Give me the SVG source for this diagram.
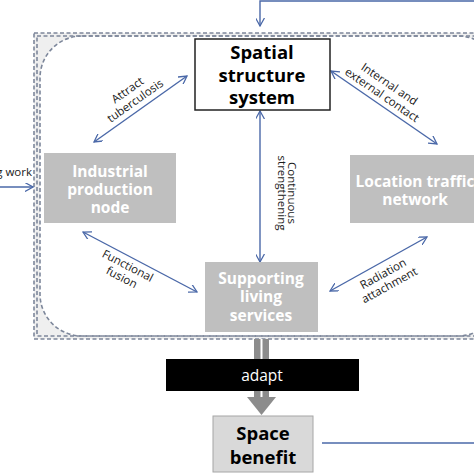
<svg xmlns="http://www.w3.org/2000/svg" width="474" height="474" viewBox="0 0 474 474">
<style>
.conn{stroke:#4a68a8;stroke-width:1.4;fill:none}
.lbl{font-family:"Open Sans","Noto Sans",sans-serif;font-size:11.5px;fill:#1a1a1a;text-anchor:middle}
.wt{font-family:"Open Sans","Noto Sans",sans-serif;font-weight:bold;font-size:15.5px;fill:#ffffff;text-anchor:middle}
.bt{font-family:"Open Sans","Noto Sans",sans-serif;font-weight:bold;font-size:18.5px;fill:#000000;text-anchor:middle}
.dash{stroke:#7d879b;stroke-width:1.6;fill:none;stroke-dasharray:4 2.5}
</style>
<defs>
<marker id="ah" viewBox="0 0 10 10" refX="9" refY="5" markerWidth="9" markerHeight="9" markerUnits="userSpaceOnUse" orient="auto-start-reverse">
<path d="M0,0 L9,5 L0,10" fill="none" stroke="#4a68a8" stroke-width="1.4"/>
</marker>
</defs>
<rect width="474" height="474" fill="#ffffff"/>
<g id="frame">
<rect x="34" y="33" width="460" height="306" fill="#efefef" stroke="none"/>
<rect x="40" y="36" width="460" height="300" rx="42" ry="42" fill="#ffffff" stroke="none"/>
<rect x="34" y="33" width="460" height="306" class="dash"/>
<rect x="37" y="36" width="460" height="300" class="dash" stroke-width="1.2" stroke="#a0a8b8"/>
<rect x="40" y="36" width="460" height="300" rx="42" ry="42" class="dash" stroke-dasharray="6 4"/>
</g>
<g id="connectors">
<path class="conn" d="M474,1 H260 V26" marker-end="url(#ah)"/>
<path class="conn" d="M0,187 H33" marker-end="url(#ah)"/>
<line class="conn" x1="260" y1="111" x2="260" y2="262" marker-start="url(#ah)" marker-end="url(#ah)"/>
<line class="conn" x1="94" y1="142" x2="187" y2="76" marker-start="url(#ah)" marker-end="url(#ah)"/>
<line class="conn" x1="331" y1="71" x2="437" y2="144" marker-start="url(#ah)" marker-end="url(#ah)"/>
<line class="conn" x1="83" y1="232" x2="197" y2="292" marker-start="url(#ah)" marker-end="url(#ah)"/>
<line class="conn" x1="330" y1="291" x2="427" y2="237" marker-start="url(#ah)" marker-end="url(#ah)"/>
<path class="conn" d="M322,443 H474"/>
<g id="adapt-arrow">
<rect x="254" y="339" width="15" height="59" fill="#8c8c8c"/>
<line x1="261.5" y1="339" x2="261.5" y2="398" stroke="#ffffff" stroke-width="2"/>
<path d="M247,397 H276 L261.5,415 Z" fill="#8c8c8c"/>
</g>
<text class="lbl" x="32" y="176" style="text-anchor:end">g work</text>
<g transform="translate(131,95) rotate(-35.4)">
<text class="lbl" x="0" y="-2">Attract</text>
<text class="lbl" x="0" y="11">tuberculosis</text>
</g>
<g transform="translate(386,89) rotate(34.3)">
<text class="lbl" x="0" y="-2">Internal and</text>
<text class="lbl" x="0" y="11">external contact</text>
</g>
<g transform="translate(125,271) rotate(27.4)">
<text class="lbl" x="0" y="-2">Functional</text>
<text class="lbl" x="0" y="11">fusion</text>
</g>
<g transform="translate(386,279) rotate(-29)">
<text class="lbl" x="0" y="-2">Radiation</text>
<text class="lbl" x="0" y="11">attachment</text>
</g>
<g transform="translate(287,193) rotate(90)">
<text class="lbl" x="0" y="-1">Continuous</text>
<text class="lbl" x="0" y="9.5">strengthening</text>
</g>
</g>
<g id="spatial">
<rect x="195" y="39" width="135" height="71" fill="#ffffff" stroke="#222222" stroke-width="1.5"/>
<text class="bt" x="262" y="59">Spatial</text>
<text class="bt" x="262" y="82">structure</text>
<text class="bt" x="262" y="104">system</text>
</g>
<g id="industrial">
<rect x="44" y="153" width="132" height="70" fill="#bfbfbf"/>
<text class="wt" x="110" y="177">Industrial</text>
<text class="wt" x="110" y="195">production</text>
<text class="wt" x="110" y="213">node</text>
</g>
<g id="location">
<rect x="350" y="155" width="130" height="68" fill="#bfbfbf"/>
<text class="wt" x="415" y="187">Location traffic</text>
<text class="wt" x="415" y="205">network</text>
</g>
<g id="supporting">
<rect x="205" y="262" width="113" height="70" fill="#bfbfbf"/>
<text class="wt" x="261" y="284">Supporting</text>
<text class="wt" x="261" y="302">living</text>
<text class="wt" x="261" y="321">services</text>
</g>
<g id="adapt">
<rect x="166" y="359" width="193" height="32" fill="#000000"/>
<text x="262" y="381" text-anchor="middle" font-family="Open Sans,Noto Sans,sans-serif" font-size="15.5px" fill="#ffffff">adapt</text>
</g>
<g id="space">
<rect x="213" y="416" width="100" height="56" fill="#d9d9d9" stroke="#a6a6a6" stroke-width="1"/>
<text class="bt" x="263" y="440">Space</text>
<text class="bt" x="263" y="464">benefit</text>
</g>
</svg>
